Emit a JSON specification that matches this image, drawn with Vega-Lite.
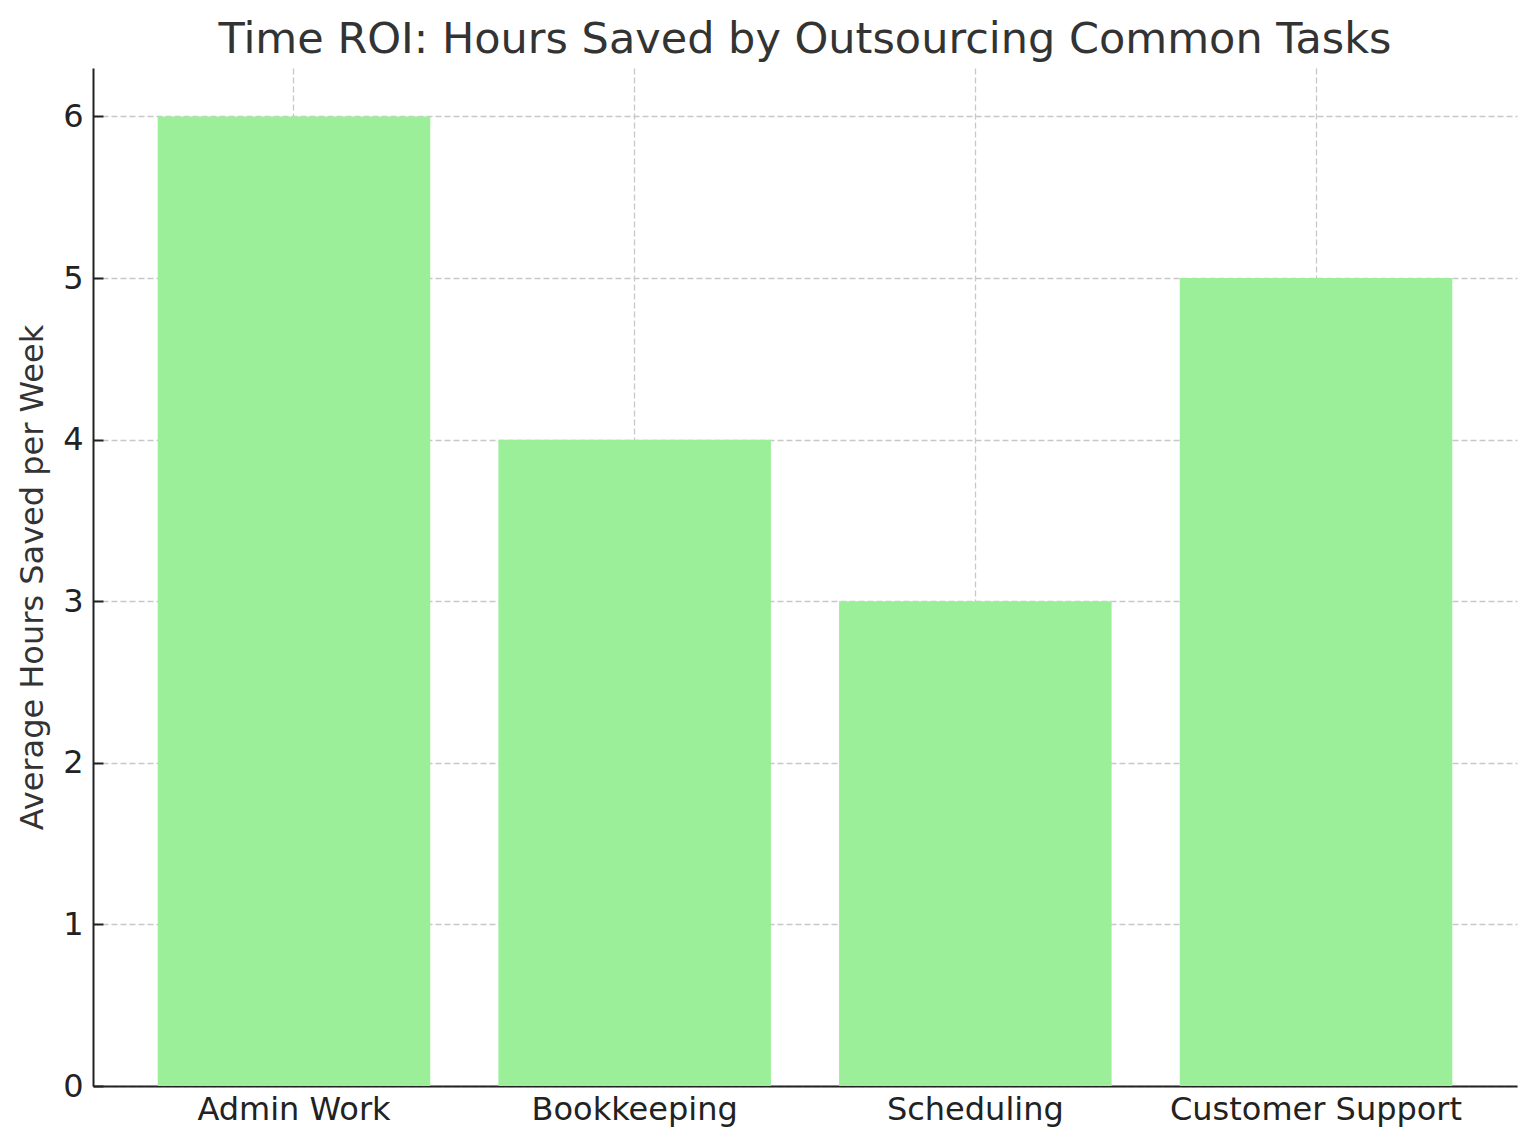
{
  "$schema": "https://vega.github.io/schema/vega-lite/v6.json",
  "width": 1424,
  "height": 1018,
  "autosize": {"type": "none"},
  "padding": {"left": 93, "top": 68, "right": 19, "bottom": 61},
  "background": "white",
  "title": {
    "text": "Time ROI: Hours Saved by Outsourcing Common Tasks",
    "fontSize": 43,
    "font": "DejaVu Sans",
    "fontWeight": "normal",
    "color": "#333333",
    "anchor": "middle",
    "frame": "group",
    "baseline": "bottom",
    "offset": 5,
    "dy": 42
  },
  "data": {
    "values": [
      {"task": "Admin Work", "hours": 6},
      {"task": "Bookkeeping", "hours": 4},
      {"task": "Scheduling", "hours": 3},
      {"task": "Customer Support", "hours": 5}
    ]
  },
  "mark": {"type": "bar", "color": "#9bef99"},
  "encoding": {
    "x": {
      "field": "task",
      "type": "nominal",
      "sort": null,
      "title": null,
      "scale": {"paddingInner": 0.2, "paddingOuter": 0.19},
      "axis": {"labelAngle": 0, "labelPadding": 18, "labelLimit": 0}
    },
    "y": {
      "field": "hours",
      "type": "quantitative",
      "title": "Average Hours Saved per Week",
      "scale": {"domain": [0, 6.3], "nice": false},
      "axis": {"values": [0, 1, 2, 3, 4, 5, 6], "titlePadding": 13, "labelPadding": 20}
    }
  },
  "config": {
    "font": "DejaVu Sans",
    "view": {"stroke": null},
    "axis": {
      "zindex": 1,
      "labelFont": "DejaVu Sans",
      "titleFont": "DejaVu Sans",
      "labelFontSize": 32,
      "titleFontSize": 32,
      "titleFontWeight": "normal",
      "labelColor": "#222222",
      "titleColor": "#333333",
      "domainColor": "#222222",
      "domainWidth": 2,
      "tickColor": "#222222",
      "tickWidth": 2,
      "tickSize": -10,
      "grid": true,
      "gridColor": "#c8c8c8",
      "gridWidth": 1.3,
      "gridDash": [6, 3],
      "labelOverlap": false
    },
    "axisBand": {"bandPosition": 0.5}
  }
}
